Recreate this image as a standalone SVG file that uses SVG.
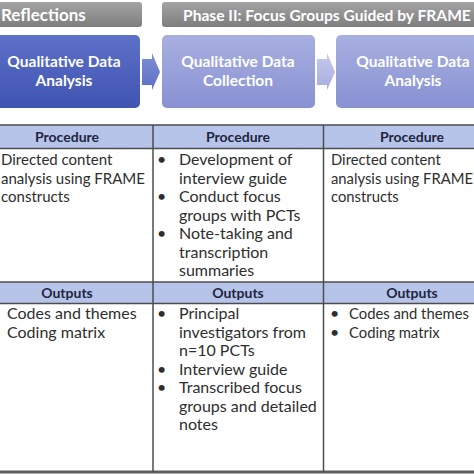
<svg xmlns="http://www.w3.org/2000/svg" width="474" height="474" viewBox="0 0 474 474">
<defs>
<linearGradient id="gBar" x1="0" y1="0" x2="0" y2="1"><stop offset="0" stop-color="#a3a3a3"/><stop offset="1" stop-color="#7e7e7e"/></linearGradient>
<linearGradient id="gDark" x1="0" y1="0" x2="0" y2="1"><stop offset="0" stop-color="#5d71c9"/><stop offset="1" stop-color="#3f53b1"/></linearGradient>
<linearGradient id="gLight" x1="0" y1="0" x2="0" y2="1"><stop offset="0" stop-color="#a8b0e0"/><stop offset="1" stop-color="#8891d2"/></linearGradient>
<linearGradient id="gArr1" x1="0" y1="0" x2="0" y2="1"><stop offset="0" stop-color="#7d8fd6"/><stop offset="1" stop-color="#5d70c4"/></linearGradient>
<linearGradient id="gArr2" x1="0" y1="0" x2="0" y2="1"><stop offset="0" stop-color="#c5c9ee"/><stop offset="1" stop-color="#a7addf"/></linearGradient>
</defs>
<style>
text{font-family:Lato,"Open Sans","Liberation Sans",sans-serif}
.bar{font-size:17px;font-weight:bold;fill:#ffffff}
.bar2{font-size:15.6px}
.box{font-size:15.5px;font-weight:bold;fill:#ffffff;text-anchor:middle}
.hd{font-size:14px;font-weight:bold;fill:#1e2640;text-anchor:middle}
.tx{font-size:16px;fill:#2e2e2e}
.t1{font-size:15px}
.t3{font-size:14.8px}
.hdfill{fill:#b7c4ea}
.ln{stroke:#4d4d4d;stroke-width:1.5;fill:none}
</style>
<rect width="474" height="474" fill="#ffffff"/>
<g id="phase-bars">
<rect x="-10" y="2" width="152" height="25" rx="3" fill="url(#gBar)"/>
<text class="bar" x="1" y="21">Reflections</text>
<rect x="162" y="2" width="322" height="25" rx="3" fill="url(#gBar)"/>
<text class="bar bar2" x="183" y="21">Phase II: Focus Groups Guided by FRAME</text>
</g>
<g id="node-analysis1">
<rect x="-10" y="35" width="150" height="73" rx="5" fill="url(#gDark)"/>
<text class="box" x="64" y="67">Qualitative Data</text>
<text class="box" x="64" y="86">Analysis</text>
</g>
<g id="node-collection">
<rect x="162" y="35" width="153" height="73" rx="5" fill="url(#gLight)"/>
<text class="box" x="238" y="67">Qualitative Data</text>
<text class="box" x="238" y="86">Collection</text>
</g>
<g id="node-analysis2">
<rect x="336" y="35" width="150" height="73" rx="5" fill="url(#gLight)"/>
<text class="box" x="413" y="67">Qualitative Data</text>
<text class="box" x="413" y="86">Analysis</text>
</g>
<g id="connectors">
<polygon points="142,59 152,59 152,53 160,72 152,90 152,85 142,85" fill="url(#gArr1)"/>
<polygon points="317,59 327,59 327,53 335,72 327,90 327,85 317,85" fill="url(#gArr2)"/>
</g>
<g id="table">
<rect class="hdfill" x="0" y="125" width="474" height="23"/>
<rect class="hdfill" x="0" y="282" width="474" height="21"/>
<line class="ln" x1="0" y1="125" x2="474" y2="125"/>
<line class="ln" x1="0" y1="148.5" x2="474" y2="148.5"/>
<line class="ln" x1="0" y1="282" x2="474" y2="282"/>
<line class="ln" x1="0" y1="303.5" x2="474" y2="303.5"/>
<line x1="0" y1="472" x2="474" y2="472" stroke="#5e5e5e" stroke-width="3"/>
<line class="ln" x1="153" y1="125" x2="153" y2="472" stroke-width="2"/>
<line class="ln" x1="323.5" y1="125" x2="323.5" y2="472" stroke-width="2"/>
<text class="hd" x="67" y="142">Procedure</text>
<text class="hd" x="238" y="142">Procedure</text>
<text class="hd" x="412" y="142">Procedure</text>
<text class="hd" x="67" y="298">Outputs</text>
<text class="hd" x="238" y="298">Outputs</text>
<text class="hd" x="412" y="298">Outputs</text>
<text class="tx t1" x="1" y="165">Directed content</text>
<text class="tx t1" x="1" y="183.5">analysis using FRAME</text>
<text class="tx t1" x="1" y="202">constructs</text>
<text class="tx" x="157" y="165">•</text><text class="tx" x="179" y="165">Development of</text>
<text class="tx" x="179" y="183.5">interview guide</text>
<text class="tx" x="157" y="202">•</text><text class="tx" x="179" y="202">Conduct focus</text>
<text class="tx" x="179" y="220.5">groups with PCTs</text>
<text class="tx" x="157" y="239">•</text><text class="tx" x="179" y="239">Note-taking and</text>
<text class="tx" x="179" y="257.5">transcription</text>
<text class="tx" x="179" y="276">summaries</text>
<text class="tx t3" x="331" y="165">Directed content</text>
<text class="tx t3" x="331" y="183.5">analysis using FRAME</text>
<text class="tx t3" x="331" y="202">constructs</text>
<text class="tx" x="7" y="319">Codes and themes</text>
<text class="tx" x="7" y="337.5">Coding matrix</text>
<text class="tx" x="157" y="319">•</text><text class="tx" x="179" y="319">Principal</text>
<text class="tx" x="179" y="337.5">investigators from</text>
<text class="tx" x="179" y="356">n=10 PCTs</text>
<text class="tx" x="157" y="374.5">•</text><text class="tx" x="179" y="374.5">Interview guide</text>
<text class="tx" x="157" y="393">•</text><text class="tx" x="179" y="393">Transcribed focus</text>
<text class="tx" x="179" y="411.5">groups and detailed</text>
<text class="tx" x="179" y="430">notes</text>
<text class="tx" x="330" y="319">•</text><text class="tx t3" x="349" y="319">Codes and themes</text>
<text class="tx" x="330" y="337.5">•</text><text class="tx t3" x="349" y="337.5">Coding matrix</text>
</g>
</svg>
